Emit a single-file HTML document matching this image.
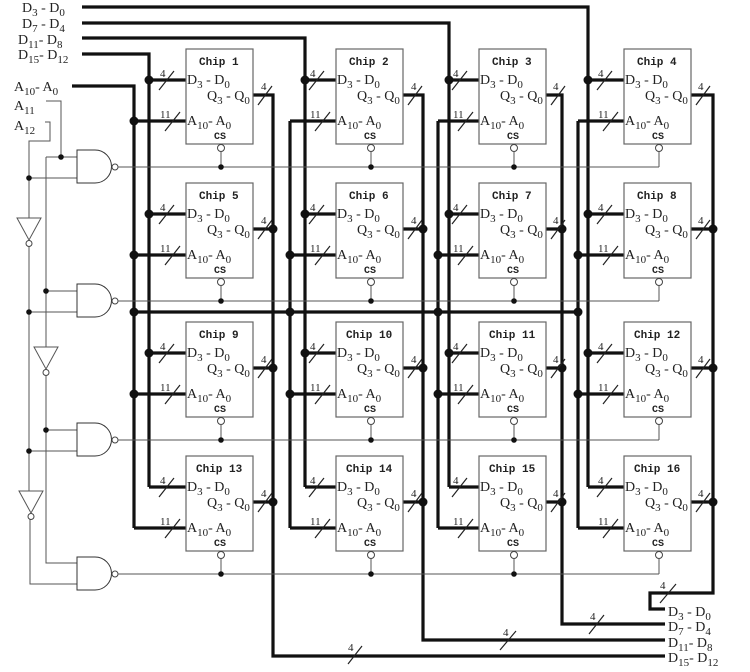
<!DOCTYPE html>
<html><head><meta charset="utf-8"><style>
html,body{margin:0;padding:0;background:#fff;}
svg{display:block;}
.t{fill:none;stroke:#111;stroke-width:3.2;}
.n{fill:none;stroke:#555;stroke-width:1;}
.bx{fill:none;stroke:#666;stroke-width:1.2;}
text{font-family:"Liberation Serif",serif;fill:#222;}
.s{font-size:14px;}
.b{font-size:11px;}
.c{font-family:"Liberation Mono",monospace;font-size:11px;font-weight:bold;}
.cs{font-family:"Liberation Mono",monospace;font-size:10px;font-weight:bold;}
.l{font-size:11px;}
.d{fill:#111;}
.bub{fill:#fff;stroke:#444;stroke-width:1;}
</style></head><body>
<svg width="750" height="672" viewBox="0 0 750 672" xmlns="http://www.w3.org/2000/svg">
<text class="s" x="22" y="12">D<tspan class="b" dy="4">3</tspan><tspan dy="-4"> - D</tspan><tspan class="b" dy="4">0</tspan></text>
<text class="s" x="22" y="28">D<tspan class="b" dy="4">7</tspan><tspan dy="-4"> - D</tspan><tspan class="b" dy="4">4</tspan></text>
<text class="s" x="18" y="44">D<tspan class="b" dy="4">11</tspan><tspan dy="-4">- D</tspan><tspan class="b" dy="4">8</tspan></text>
<text class="s" x="18" y="59">D<tspan class="b" dy="4">15</tspan><tspan dy="-4">- D</tspan><tspan class="b" dy="4">12</tspan></text>
<text class="s" x="14" y="91">A<tspan class="b" dy="4">10</tspan><tspan dy="-4">- A</tspan><tspan class="b" dy="4">0</tspan></text>
<text class="s" x="14" y="110">A<tspan class="b" dy="4">11</tspan></text>
<text class="s" x="14" y="130">A<tspan class="b" dy="4">12</tspan></text>

<path class="t" d="M82 7H588V487 M82 23H449V487 M82 38H305V487 M82 54H149V487 M72 86H134V528 M134 312H578 M290 121V528 M438 121V528 M578 121V528"/>
<path class="t" d="M253 95H273V656H665 M403 95H423V640H665 M546 95H562V624H665 M691 95H713V593H650V609H665"/>
<path class="t" d="M149 80H186 M149 214H186 M149 353H186 M149 487H186 M134 121H186 M134 255H186 M134 394H186 M134 528H186
M305 80H336 M305 214H336 M305 353H336 M305 487H336 M290 121H336 M290 255H336 M290 394H336 M290 528H336
M449 80H479 M449 214H479 M449 353H479 M449 487H479 M438 121H479 M438 255H479 M438 394H479 M438 528H479
M588 80H624 M588 214H624 M588 353H624 M588 487H624 M578 121H624 M578 255H624 M578 394H624 M578 528H624
M253 229H273 M253 368H273 M253 502H273 M403 229H423 M403 368H423 M403 502H423 M546 229H562 M546 368H562 M546 502H562 M691 229H713 M691 368H713 M691 502H713"/>
<g class="d">
<circle cx="149" cy="80" r="4.5"/><circle cx="149" cy="214" r="4.5"/><circle cx="149" cy="353" r="4.5"/>
<circle cx="305" cy="80" r="4.5"/><circle cx="305" cy="214" r="4.5"/><circle cx="305" cy="353" r="4.5"/>
<circle cx="449" cy="80" r="4.5"/><circle cx="449" cy="214" r="4.5"/><circle cx="449" cy="353" r="4.5"/>
<circle cx="588" cy="80" r="4.5"/><circle cx="588" cy="214" r="4.5"/><circle cx="588" cy="353" r="4.5"/>
<circle cx="134" cy="121" r="4.5"/><circle cx="134" cy="255" r="4.5"/><circle cx="134" cy="394" r="4.5"/><circle cx="134" cy="312" r="4.5"/>
<circle cx="290" cy="255" r="4.5"/><circle cx="290" cy="394" r="4.5"/><circle cx="290" cy="312" r="4.5"/>
<circle cx="438" cy="255" r="4.5"/><circle cx="438" cy="394" r="4.5"/><circle cx="438" cy="312" r="4.5"/>
<circle cx="578" cy="255" r="4.5"/><circle cx="578" cy="394" r="4.5"/><circle cx="578" cy="312" r="4.5"/>
<circle cx="273" cy="229" r="4.5"/><circle cx="273" cy="368" r="4.5"/><circle cx="273" cy="502" r="4.5"/>
<circle cx="423" cy="229" r="4.5"/><circle cx="423" cy="368" r="4.5"/><circle cx="423" cy="502" r="4.5"/>
<circle cx="562" cy="229" r="4.5"/><circle cx="562" cy="368" r="4.5"/><circle cx="562" cy="502" r="4.5"/>
<circle cx="713" cy="229" r="4.5"/><circle cx="713" cy="368" r="4.5"/><circle cx="713" cy="502" r="4.5"/>
</g>

<g class="n" style="stroke:#222;stroke-width:1.2">
<path d="M159 90L174 71 M165 131L180 112 M258 105L272 86
M309 90L324 71 M315 131L330 112 M408 105L422 86
M452 90L467 71 M458 131L473 112 M551 105L565 86
M597 90L612 71 M603 131L618 112 M696 105L710 86
M159 224L174 205 M165 265L180 246 M258 239L272 220
M309 224L324 205 M315 265L330 246 M408 239L422 220
M452 224L467 205 M458 265L473 246 M551 239L565 220
M597 224L612 205 M603 265L618 246 M696 239L710 220
M159 363L174 344 M165 404L180 385 M258 378L272 359
M309 363L324 344 M315 404L330 385 M408 378L422 359
M452 363L467 344 M458 404L473 385 M551 378L565 359
M597 363L612 344 M603 404L618 385 M696 378L710 359
M159 497L174 478 M165 538L180 519 M258 512L272 493
M309 497L324 478 M315 538L330 519 M408 512L422 493
M452 497L467 478 M458 538L473 519 M551 512L565 493
M597 497L612 478 M603 538L618 519 M696 512L710 493
M660 603L676 584 M589 634L604 615 M500 650L516 631 M348 664L362 646"/>
</g>
<g class="l">
<text x="160" y="77">4</text><text x="160" y="118">11</text><text x="261" y="90">4</text>
<text x="310" y="77">4</text><text x="310" y="118">11</text><text x="411" y="90">4</text>
<text x="453" y="77">4</text><text x="453" y="118">11</text><text x="553" y="90">4</text>
<text x="598" y="77">4</text><text x="598" y="118">11</text><text x="698" y="90">4</text>
<text x="160" y="211">4</text><text x="160" y="252">11</text><text x="261" y="224">4</text>
<text x="310" y="211">4</text><text x="310" y="252">11</text><text x="411" y="224">4</text>
<text x="453" y="211">4</text><text x="453" y="252">11</text><text x="553" y="224">4</text>
<text x="598" y="211">4</text><text x="598" y="252">11</text><text x="698" y="224">4</text>
<text x="160" y="350">4</text><text x="160" y="391">11</text><text x="261" y="363">4</text>
<text x="310" y="350">4</text><text x="310" y="391">11</text><text x="411" y="363">4</text>
<text x="453" y="350">4</text><text x="453" y="391">11</text><text x="553" y="363">4</text>
<text x="598" y="350">4</text><text x="598" y="391">11</text><text x="698" y="363">4</text>
<text x="160" y="484">4</text><text x="160" y="525">11</text><text x="261" y="497">4</text>
<text x="310" y="484">4</text><text x="310" y="525">11</text><text x="411" y="497">4</text>
<text x="453" y="484">4</text><text x="453" y="525">11</text><text x="553" y="497">4</text>
<text x="598" y="484">4</text><text x="598" y="525">11</text><text x="698" y="497">4</text>
<text x="660" y="589">4</text><text x="590" y="620">4</text><text x="503" y="636">4</text><text x="348" y="651">4</text>
</g>

<text class="s" x="668" y="616">D<tspan class="b" dy="4">3</tspan><tspan dy="-4"> - D</tspan><tspan class="b" dy="4">0</tspan></text>
<text class="s" x="668" y="631">D<tspan class="b" dy="4">7</tspan><tspan dy="-4"> - D</tspan><tspan class="b" dy="4">4</tspan></text>
<text class="s" x="668" y="647">D<tspan class="b" dy="4">11</tspan><tspan dy="-4">- D</tspan><tspan class="b" dy="4">8</tspan></text>
<text class="s" x="668" y="662">D<tspan class="b" dy="4">15</tspan><tspan dy="-4">- D</tspan><tspan class="b" dy="4">12</tspan></text>

<path class="n" d="M46 101H61V157 M46 157H77 M46 157V347 M46 376V563H77 M45 122H50V141H29V218 M29 247V491 M30 519V584H77
M29 178H77 M46 291H77 M29 312H77 M46 430H77 M29 451H77"/>
<path class="n" d="M17 218H41L29 240Z M34 347H58L46 369Z M19 491H43L31 513Z"/>
<circle class="bub" cx="29" cy="243.5" r="3"/><circle class="bub" cx="46" cy="372.5" r="3"/><circle class="bub" cx="31" cy="516.5" r="3"/>
<g class="d"><circle cx="61" cy="157" r="2.8"/><circle cx="29" cy="178" r="2.8"/><circle cx="46" cy="291" r="2.8"/><circle cx="29" cy="312" r="2.8"/><circle cx="46" cy="430" r="2.8"/><circle cx="29" cy="451" r="2.8"/></g>
<path class="n" style="stroke:#333" d="M77 150H95A16.5 16.5 0 0 1 95 183H77Z M77 284H95A16.5 16.5 0 0 1 95 317H77Z M77 423H95A16.5 16.5 0 0 1 95 456H77Z M77 557H95A16.5 16.5 0 0 1 95 590H77Z"/>
<circle class="bub" cx="115" cy="167" r="3"/><circle class="bub" cx="115" cy="301" r="3"/><circle class="bub" cx="115" cy="440" r="3"/><circle class="bub" cx="115" cy="574" r="3"/>
<path class="n" d="M118 167H659 M118 301H659 M118 440H659 M118 574H659"/>

<g>
<g transform="translate(186,49)"><rect class="bx" width="67" height="95"/><text class="c" x="13" y="16">Chip 1</text><text class="s" x="1" y="35">D<tspan class="b" dy="4">3</tspan><tspan dy="-4"> - D</tspan><tspan class="b" dy="4">0</tspan></text><text class="s" x="21" y="51">Q<tspan class="b" dy="4">3</tspan><tspan dy="-4"> - Q</tspan><tspan class="b" dy="4">0</tspan></text><text class="s" x="1" y="76">A<tspan class="b" dy="4">10</tspan><tspan dy="-4">- A</tspan><tspan class="b" dy="4">0</tspan></text><text class="cs" x="28" y="90">CS</text><circle class="bub" cx="35" cy="99" r="3.5"/><path class="n" d="M35 102.5V118"/><circle class="d" cx="35" cy="118" r="2.8"/></g>
<g transform="translate(336,49)"><rect class="bx" width="67" height="95"/><text class="c" x="13" y="16">Chip 2</text><text class="s" x="1" y="35">D<tspan class="b" dy="4">3</tspan><tspan dy="-4"> - D</tspan><tspan class="b" dy="4">0</tspan></text><text class="s" x="21" y="51">Q<tspan class="b" dy="4">3</tspan><tspan dy="-4"> - Q</tspan><tspan class="b" dy="4">0</tspan></text><text class="s" x="1" y="76">A<tspan class="b" dy="4">10</tspan><tspan dy="-4">- A</tspan><tspan class="b" dy="4">0</tspan></text><text class="cs" x="28" y="90">CS</text><circle class="bub" cx="35" cy="99" r="3.5"/><path class="n" d="M35 102.5V118"/><circle class="d" cx="35" cy="118" r="2.8"/></g>
<g transform="translate(479,49)"><rect class="bx" width="67" height="95"/><text class="c" x="13" y="16">Chip 3</text><text class="s" x="1" y="35">D<tspan class="b" dy="4">3</tspan><tspan dy="-4"> - D</tspan><tspan class="b" dy="4">0</tspan></text><text class="s" x="21" y="51">Q<tspan class="b" dy="4">3</tspan><tspan dy="-4"> - Q</tspan><tspan class="b" dy="4">0</tspan></text><text class="s" x="1" y="76">A<tspan class="b" dy="4">10</tspan><tspan dy="-4">- A</tspan><tspan class="b" dy="4">0</tspan></text><text class="cs" x="28" y="90">CS</text><circle class="bub" cx="35" cy="99" r="3.5"/><path class="n" d="M35 102.5V118"/><circle class="d" cx="35" cy="118" r="2.8"/></g>
<g transform="translate(624,49)"><rect class="bx" width="67" height="95"/><text class="c" x="13" y="16">Chip 4</text><text class="s" x="1" y="35">D<tspan class="b" dy="4">3</tspan><tspan dy="-4"> - D</tspan><tspan class="b" dy="4">0</tspan></text><text class="s" x="21" y="51">Q<tspan class="b" dy="4">3</tspan><tspan dy="-4"> - Q</tspan><tspan class="b" dy="4">0</tspan></text><text class="s" x="1" y="76">A<tspan class="b" dy="4">10</tspan><tspan dy="-4">- A</tspan><tspan class="b" dy="4">0</tspan></text><text class="cs" x="28" y="90">CS</text><circle class="bub" cx="35" cy="99" r="3.5"/><path class="n" d="M35 102.5V118"/></g>

<g transform="translate(186,183)"><rect class="bx" width="67" height="95"/><text class="c" x="13" y="16">Chip 5</text><text class="s" x="1" y="35">D<tspan class="b" dy="4">3</tspan><tspan dy="-4"> - D</tspan><tspan class="b" dy="4">0</tspan></text><text class="s" x="21" y="51">Q<tspan class="b" dy="4">3</tspan><tspan dy="-4"> - Q</tspan><tspan class="b" dy="4">0</tspan></text><text class="s" x="1" y="76">A<tspan class="b" dy="4">10</tspan><tspan dy="-4">- A</tspan><tspan class="b" dy="4">0</tspan></text><text class="cs" x="28" y="90">CS</text><circle class="bub" cx="35" cy="99" r="3.5"/><path class="n" d="M35 102.5V118"/><circle class="d" cx="35" cy="118" r="2.8"/></g>
<g transform="translate(336,183)"><rect class="bx" width="67" height="95"/><text class="c" x="13" y="16">Chip 6</text><text class="s" x="1" y="35">D<tspan class="b" dy="4">3</tspan><tspan dy="-4"> - D</tspan><tspan class="b" dy="4">0</tspan></text><text class="s" x="21" y="51">Q<tspan class="b" dy="4">3</tspan><tspan dy="-4"> - Q</tspan><tspan class="b" dy="4">0</tspan></text><text class="s" x="1" y="76">A<tspan class="b" dy="4">10</tspan><tspan dy="-4">- A</tspan><tspan class="b" dy="4">0</tspan></text><text class="cs" x="28" y="90">CS</text><circle class="bub" cx="35" cy="99" r="3.5"/><path class="n" d="M35 102.5V118"/><circle class="d" cx="35" cy="118" r="2.8"/></g>
<g transform="translate(479,183)"><rect class="bx" width="67" height="95"/><text class="c" x="13" y="16">Chip 7</text><text class="s" x="1" y="35">D<tspan class="b" dy="4">3</tspan><tspan dy="-4"> - D</tspan><tspan class="b" dy="4">0</tspan></text><text class="s" x="21" y="51">Q<tspan class="b" dy="4">3</tspan><tspan dy="-4"> - Q</tspan><tspan class="b" dy="4">0</tspan></text><text class="s" x="1" y="76">A<tspan class="b" dy="4">10</tspan><tspan dy="-4">- A</tspan><tspan class="b" dy="4">0</tspan></text><text class="cs" x="28" y="90">CS</text><circle class="bub" cx="35" cy="99" r="3.5"/><path class="n" d="M35 102.5V118"/><circle class="d" cx="35" cy="118" r="2.8"/></g>
<g transform="translate(624,183)"><rect class="bx" width="67" height="95"/><text class="c" x="13" y="16">Chip 8</text><text class="s" x="1" y="35">D<tspan class="b" dy="4">3</tspan><tspan dy="-4"> - D</tspan><tspan class="b" dy="4">0</tspan></text><text class="s" x="21" y="51">Q<tspan class="b" dy="4">3</tspan><tspan dy="-4"> - Q</tspan><tspan class="b" dy="4">0</tspan></text><text class="s" x="1" y="76">A<tspan class="b" dy="4">10</tspan><tspan dy="-4">- A</tspan><tspan class="b" dy="4">0</tspan></text><text class="cs" x="28" y="90">CS</text><circle class="bub" cx="35" cy="99" r="3.5"/><path class="n" d="M35 102.5V118"/></g>

<g transform="translate(186,322)"><rect class="bx" width="67" height="95"/><text class="c" x="13" y="16">Chip 9</text><text class="s" x="1" y="35">D<tspan class="b" dy="4">3</tspan><tspan dy="-4"> - D</tspan><tspan class="b" dy="4">0</tspan></text><text class="s" x="21" y="51">Q<tspan class="b" dy="4">3</tspan><tspan dy="-4"> - Q</tspan><tspan class="b" dy="4">0</tspan></text><text class="s" x="1" y="76">A<tspan class="b" dy="4">10</tspan><tspan dy="-4">- A</tspan><tspan class="b" dy="4">0</tspan></text><text class="cs" x="28" y="90">CS</text><circle class="bub" cx="35" cy="99" r="3.5"/><path class="n" d="M35 102.5V118"/><circle class="d" cx="35" cy="118" r="2.8"/></g>
<g transform="translate(336,322)"><rect class="bx" width="67" height="95"/><text class="c" x="10" y="16">Chip 10</text><text class="s" x="1" y="35">D<tspan class="b" dy="4">3</tspan><tspan dy="-4"> - D</tspan><tspan class="b" dy="4">0</tspan></text><text class="s" x="21" y="51">Q<tspan class="b" dy="4">3</tspan><tspan dy="-4"> - Q</tspan><tspan class="b" dy="4">0</tspan></text><text class="s" x="1" y="76">A<tspan class="b" dy="4">10</tspan><tspan dy="-4">- A</tspan><tspan class="b" dy="4">0</tspan></text><text class="cs" x="28" y="90">CS</text><circle class="bub" cx="35" cy="99" r="3.5"/><path class="n" d="M35 102.5V118"/><circle class="d" cx="35" cy="118" r="2.8"/></g>
<g transform="translate(479,322)"><rect class="bx" width="67" height="95"/><text class="c" x="10" y="16">Chip 11</text><text class="s" x="1" y="35">D<tspan class="b" dy="4">3</tspan><tspan dy="-4"> - D</tspan><tspan class="b" dy="4">0</tspan></text><text class="s" x="21" y="51">Q<tspan class="b" dy="4">3</tspan><tspan dy="-4"> - Q</tspan><tspan class="b" dy="4">0</tspan></text><text class="s" x="1" y="76">A<tspan class="b" dy="4">10</tspan><tspan dy="-4">- A</tspan><tspan class="b" dy="4">0</tspan></text><text class="cs" x="28" y="90">CS</text><circle class="bub" cx="35" cy="99" r="3.5"/><path class="n" d="M35 102.5V118"/><circle class="d" cx="35" cy="118" r="2.8"/></g>
<g transform="translate(624,322)"><rect class="bx" width="67" height="95"/><text class="c" x="10" y="16">Chip 12</text><text class="s" x="1" y="35">D<tspan class="b" dy="4">3</tspan><tspan dy="-4"> - D</tspan><tspan class="b" dy="4">0</tspan></text><text class="s" x="21" y="51">Q<tspan class="b" dy="4">3</tspan><tspan dy="-4"> - Q</tspan><tspan class="b" dy="4">0</tspan></text><text class="s" x="1" y="76">A<tspan class="b" dy="4">10</tspan><tspan dy="-4">- A</tspan><tspan class="b" dy="4">0</tspan></text><text class="cs" x="28" y="90">CS</text><circle class="bub" cx="35" cy="99" r="3.5"/><path class="n" d="M35 102.5V118"/></g>

<g transform="translate(186,456)"><rect class="bx" width="67" height="95"/><text class="c" x="10" y="16">Chip 13</text><text class="s" x="1" y="35">D<tspan class="b" dy="4">3</tspan><tspan dy="-4"> - D</tspan><tspan class="b" dy="4">0</tspan></text><text class="s" x="21" y="51">Q<tspan class="b" dy="4">3</tspan><tspan dy="-4"> - Q</tspan><tspan class="b" dy="4">0</tspan></text><text class="s" x="1" y="76">A<tspan class="b" dy="4">10</tspan><tspan dy="-4">- A</tspan><tspan class="b" dy="4">0</tspan></text><text class="cs" x="28" y="90">CS</text><circle class="bub" cx="35" cy="99" r="3.5"/><path class="n" d="M35 102.5V118"/><circle class="d" cx="35" cy="118" r="2.8"/></g>
<g transform="translate(336,456)"><rect class="bx" width="67" height="95"/><text class="c" x="10" y="16">Chip 14</text><text class="s" x="1" y="35">D<tspan class="b" dy="4">3</tspan><tspan dy="-4"> - D</tspan><tspan class="b" dy="4">0</tspan></text><text class="s" x="21" y="51">Q<tspan class="b" dy="4">3</tspan><tspan dy="-4"> - Q</tspan><tspan class="b" dy="4">0</tspan></text><text class="s" x="1" y="76">A<tspan class="b" dy="4">10</tspan><tspan dy="-4">- A</tspan><tspan class="b" dy="4">0</tspan></text><text class="cs" x="28" y="90">CS</text><circle class="bub" cx="35" cy="99" r="3.5"/><path class="n" d="M35 102.5V118"/><circle class="d" cx="35" cy="118" r="2.8"/></g>
<g transform="translate(479,456)"><rect class="bx" width="67" height="95"/><text class="c" x="10" y="16">Chip 15</text><text class="s" x="1" y="35">D<tspan class="b" dy="4">3</tspan><tspan dy="-4"> - D</tspan><tspan class="b" dy="4">0</tspan></text><text class="s" x="21" y="51">Q<tspan class="b" dy="4">3</tspan><tspan dy="-4"> - Q</tspan><tspan class="b" dy="4">0</tspan></text><text class="s" x="1" y="76">A<tspan class="b" dy="4">10</tspan><tspan dy="-4">- A</tspan><tspan class="b" dy="4">0</tspan></text><text class="cs" x="28" y="90">CS</text><circle class="bub" cx="35" cy="99" r="3.5"/><path class="n" d="M35 102.5V118"/><circle class="d" cx="35" cy="118" r="2.8"/></g>
<g transform="translate(624,456)"><rect class="bx" width="67" height="95"/><text class="c" x="10" y="16">Chip 16</text><text class="s" x="1" y="35">D<tspan class="b" dy="4">3</tspan><tspan dy="-4"> - D</tspan><tspan class="b" dy="4">0</tspan></text><text class="s" x="21" y="51">Q<tspan class="b" dy="4">3</tspan><tspan dy="-4"> - Q</tspan><tspan class="b" dy="4">0</tspan></text><text class="s" x="1" y="76">A<tspan class="b" dy="4">10</tspan><tspan dy="-4">- A</tspan><tspan class="b" dy="4">0</tspan></text><text class="cs" x="28" y="90">CS</text><circle class="bub" cx="35" cy="99" r="3.5"/><path class="n" d="M35 102.5V118"/></g>
</g>
</svg>
</body></html>
